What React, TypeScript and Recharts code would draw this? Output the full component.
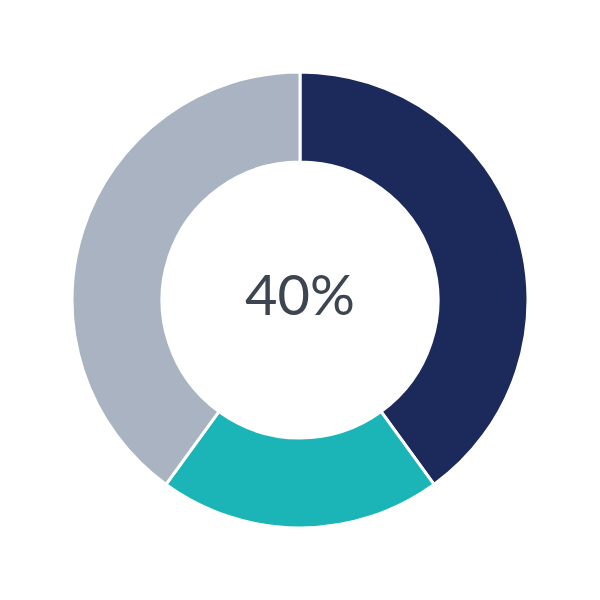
import React from "react";
import { PieChart, Pie, Cell, Label } from "recharts";

const segmentNames = ["Primary", "Secondary", "Remaining"];
const segmentValues = [40, 20, 40];
const segmentColors = ["#1b2a5a", "#1cb5b7", "#a9b3c1"];
const centerLabel = "40%";

const data = segmentNames.map((name, i) => ({ name, value: segmentValues[i] }));

const App: React.FC = () => {
  return (
    <div style={{ width: 584, height: 584 }}>
      <PieChart width={584} height={584}>
        <Pie
          data={data}
          dataKey="value"
          nameKey="name"
          cx={287}
          cy={287}
          innerRadius={138}
          outerRadius={228}
          startAngle={90}
          endAngle={-270}
          stroke="#ffffff"
          strokeWidth={3}
          isAnimationActive={false}
        >
          {data.map((d, i) => (
            <Cell key={d.name} fill={segmentColors[i]} />
          ))}
          <Label
            value={centerLabel}
            position="center"
            fill="#3c4550"
            dy={-5}
            style={{ fontFamily: "Lato, 'Open Sans', sans-serif", fontSize: 56, fontWeight: 400 }}
          />
        </Pie>
      </PieChart>
    </div>
  );
};

export default App;
